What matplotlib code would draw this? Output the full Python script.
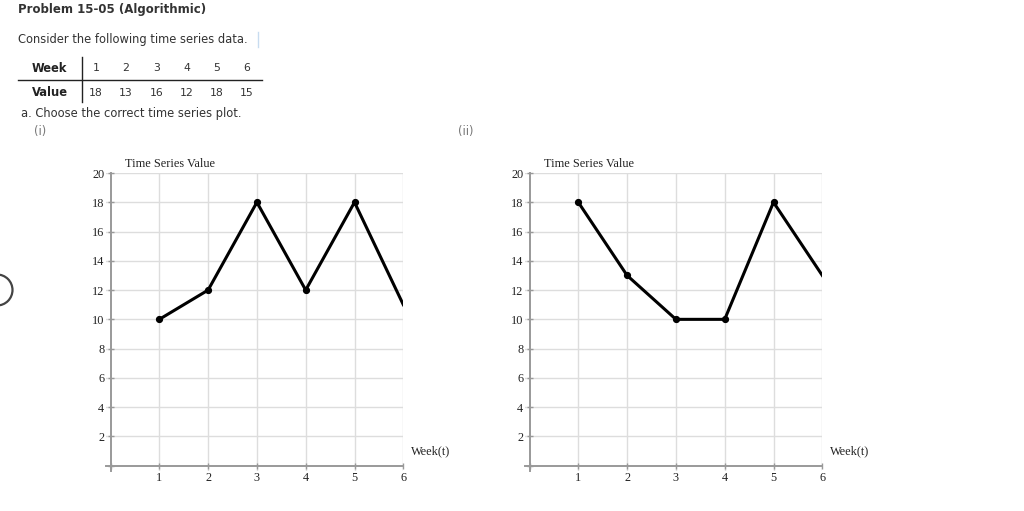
import matplotlib
matplotlib.use("Agg")
import matplotlib.pyplot as plt
from matplotlib.patches import Circle

# ---- data ----
weeks = [1, 2, 3, 4, 5, 6]
table_values = [18, 13, 16, 12, 18, 15]
series_i = [10, 12, 18, 12, 18, 11]
series_ii = [18, 13, 10, 10, 18, 13]
y_ticks = [2, 4, 6, 8, 10, 12, 14, 16, 18, 20]
x_ticks = [1, 2, 3, 4, 5, 6]

W, H = 1024, 511
fig = plt.figure(figsize=(W / 100, H / 100), dpi=100)
fig.patch.set_facecolor("white")

# overlay in pixel coordinates for header text
bg = fig.add_axes([0, 0, 1, 1])
bg.set_xlim(0, W)
bg.set_ylim(H, 0)
bg.axis("off")

txt = "#333333"
fs = 8.3
bg.text(18, 9, "Problem 15-05 (Algorithmic)", fontsize=8.5, fontweight="bold",
        color=txt, va="center", ha="left", family="DejaVu Sans")
bg.text(18, 39, "Consider the following time series data.", fontsize=fs,
        color=txt, va="center", ha="left", family="DejaVu Sans")
bg.plot([258, 258], [32, 47], color="#c8dcf0", lw=1)
bg.text(32, 68, "Week", fontsize=fs, fontweight="bold", color="#222222",
        va="center", ha="left")
bg.text(32, 93, "Value", fontsize=fs, fontweight="bold", color="#222222",
        va="center", ha="left")
col_x = [96, 126, 156.5, 187, 217, 246.5]
for cx, wk, v in zip(col_x, weeks, table_values):
    bg.text(cx, 68, str(wk), fontsize=7.8, color=txt, va="center", ha="center")
    bg.text(cx, 93, str(v), fontsize=7.8, color=txt, va="center", ha="center")
bg.plot([18, 262], [80, 80], color="#222222", lw=1)
bg.plot([82, 82], [57, 102], color="#222222", lw=1)
bg.text(21, 113, "a. Choose the correct time series plot.", fontsize=fs,
        color=txt, va="center", ha="left")
bg.text(40, 131, "(i)", fontsize=8.3, color="#777777", va="center", ha="center")
bg.text(466, 131, "(ii)", fontsize=8.3, color="#777777", va="center", ha="center")
bg.add_patch(Circle((-3, 290), 15.5, fill=False, edgecolor="#444444", lw=1.6,
                    clip_on=False))

serif = "Liberation Serif"


def make_panel(left_px, series):
    x0_px, x6_px = left_px, left_px + 6 * 48.8
    y20_px, y0_px = 173, 465.7
    pad_x, pad_y = 0.1, 0.34
    left = (x0_px - pad_x * 48.8) / W
    width = (x6_px - x0_px + pad_x * 48.8) / W
    bottom = 1 - (y0_px + pad_y * 14.63) / H
    height = (y0_px + pad_y * 14.63 - y20_px) / H
    ax = fig.add_axes([left, bottom, width, height])
    ax.set_xlim(-pad_x, 6)
    ax.set_ylim(-pad_y, 20)
    for v in x_ticks:
        ax.axvline(v, color="#dddddd", lw=1, zorder=0)
    for v in y_ticks:
        ax.axhline(v, color="#dddddd", lw=1, zorder=0)
    for s in ("top", "right"):
        ax.spines[s].set_visible(False)
    ax.spines["left"].set_position(("data", 0))
    ax.spines["bottom"].set_position(("data", 0))
    for s in ("left", "bottom"):
        ax.spines[s].set_color("#999999")
        ax.spines[s].set_linewidth(1.4)
    ax.set_xticks([0] + x_ticks)
    ax.set_xticklabels([""] + [str(v) for v in x_ticks])
    ax.set_yticks([0] + y_ticks)
    ax.set_yticklabels([""] + [str(v) for v in y_ticks])
    ax.tick_params(direction="inout", length=5, width=1, color="#999999",
                   labelsize=8.8, labelcolor="#222222", pad=2)
    for lab in ax.get_xticklabels() + ax.get_yticklabels():
        lab.set_family(serif)
    ax.plot(weeks, series, color="black", lw=2.2, marker="o", markersize=4.2,
            markevery=slice(0, 5), solid_joinstyle="miter", clip_on=True,
            zorder=3)
    ax.text(0.29, 20.6, "Time Series Value", fontsize=8.8, family=serif,
            color="#222222", ha="left", va="center", clip_on=False)
    ax.text(6.15, 1.0, "Week(t)", fontsize=8.8, family=serif,
            color="#222222", ha="left", va="center", clip_on=False)
    ax.patch.set_alpha(0)
    return ax


make_panel(110.5, series_i)
make_panel(529.5, series_ii)

fig.savefig("out.png", dpi=100, facecolor="white")
